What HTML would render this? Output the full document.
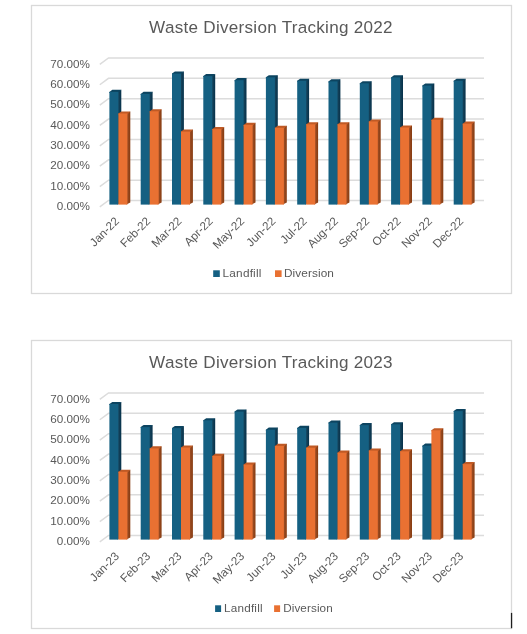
<!DOCTYPE html>
<html><head><meta charset="utf-8"><style>
html,body{margin:0;padding:0;background:#fff;width:527px;height:634px;overflow:hidden}
svg{display:block;font-family:"Liberation Sans",sans-serif;will-change:transform}
</style></head><body>
<svg width="527" height="634" viewBox="0 0 527 634">
<defs><linearGradient id="gb" x1="0" y1="0" x2="1" y2="0"><stop offset="0.25" stop-color="#17445c"/><stop offset="1" stop-color="#06314a"/></linearGradient><linearGradient id="go" x1="0" y1="0" x2="1" y2="0"><stop offset="0.25" stop-color="#9d4e25"/><stop offset="1" stop-color="#863b10"/></linearGradient></defs>
<rect width="527" height="634" fill="#fff"/>
<g transform="translate(0,0)">
<rect x="31.5" y="5.5" width="480" height="288" fill="#fff" stroke="#d9d9d9" stroke-width="1.3"/>
<text x="271" y="33" text-anchor="middle" font-size="17.1" letter-spacing="0.27" fill="#595959">Waste Diversion Tracking 2022</text>
<polyline points="99.8,206.9 108.5,200.5 484,200.5" fill="none" stroke="#dcdcdc" stroke-width="1.5"/>
<polyline points="99.8,186.54 108.5,180.14 484,180.14" fill="none" stroke="#dcdcdc" stroke-width="1.5"/>
<polyline points="99.8,166.18 108.5,159.78 484,159.78" fill="none" stroke="#dcdcdc" stroke-width="1.5"/>
<polyline points="99.8,145.82 108.5,139.42 484,139.42" fill="none" stroke="#dcdcdc" stroke-width="1.5"/>
<polyline points="99.8,125.46 108.5,119.06 484,119.06" fill="none" stroke="#dcdcdc" stroke-width="1.5"/>
<polyline points="99.8,105.1 108.5,98.7 484,98.7" fill="none" stroke="#dcdcdc" stroke-width="1.5"/>
<polyline points="99.8,84.74 108.5,78.34 484,78.34" fill="none" stroke="#dcdcdc" stroke-width="1.5"/>
<polyline points="99.8,64.38 108.5,57.98 484,57.98" fill="none" stroke="#dcdcdc" stroke-width="1.5"/>
<text x="89.9" y="210" text-anchor="end" font-size="11.7" fill="#595959">0.00%</text>
<text x="89.9" y="190" text-anchor="end" font-size="11.7" fill="#595959">10.00%</text>
<text x="89.9" y="169" text-anchor="end" font-size="11.7" fill="#595959">20.00%</text>
<text x="89.9" y="149" text-anchor="end" font-size="11.7" fill="#595959">30.00%</text>
<text x="89.9" y="129" text-anchor="end" font-size="11.7" fill="#595959">40.00%</text>
<text x="89.9" y="108" text-anchor="end" font-size="11.7" fill="#595959">50.00%</text>
<text x="89.9" y="88" text-anchor="end" font-size="11.7" fill="#595959">60.00%</text>
<text x="89.9" y="68" text-anchor="end" font-size="11.7" fill="#595959">70.00%</text>
<polygon points="117.4,91.6 121.3,89.8 121.3,202.5 117.4,204.6" fill="url(#gb)"/><polygon points="109.4,92.9 109.4,91.9 112.3,89.8 121.3,89.8 118.4,92.9" fill="#0c4460"/><rect x="109.4" y="91.9" width="9" height="112.7" fill="#156082"/>
<polygon points="126.4,113.2 130.3,111.4 130.3,202.5 126.4,204.6" fill="url(#go)"/><polygon points="118.4,114.5 118.4,113.5 121.3,111.4 130.3,111.4 127.4,114.5" fill="#c05a25"/><rect x="118.4" y="113.5" width="9" height="91.1" fill="#e97132"/>
<polygon points="148.7,93.6 152.6,91.8 152.6,202.5 148.7,204.6" fill="url(#gb)"/><polygon points="140.7,94.9 140.7,93.9 143.6,91.8 152.6,91.8 149.7,94.9" fill="#0c4460"/><rect x="140.7" y="93.9" width="9" height="110.7" fill="#156082"/>
<polygon points="157.7,111 161.6,109.2 161.6,202.5 157.7,204.6" fill="url(#go)"/><polygon points="149.7,112.3 149.7,111.3 152.6,109.2 161.6,109.2 158.7,112.3" fill="#c05a25"/><rect x="149.7" y="111.3" width="9" height="93.3" fill="#e97132"/>
<polygon points="180,73.3 183.9,71.5 183.9,202.5 180,204.6" fill="url(#gb)"/><polygon points="172,74.6 172,73.6 174.9,71.5 183.9,71.5 181,74.6" fill="#0c4460"/><rect x="172" y="73.6" width="9" height="131" fill="#156082"/>
<polygon points="189,131.3 192.9,129.5 192.9,202.5 189,204.6" fill="url(#go)"/><polygon points="181,132.6 181,131.6 183.9,129.5 192.9,129.5 190,132.6" fill="#c05a25"/><rect x="181" y="131.6" width="9" height="73" fill="#e97132"/>
<polygon points="211.3,75.8 215.2,74 215.2,202.5 211.3,204.6" fill="url(#gb)"/><polygon points="203.3,77.1 203.3,76.1 206.2,74 215.2,74 212.3,77.1" fill="#0c4460"/><rect x="203.3" y="76.1" width="9" height="128.5" fill="#156082"/>
<polygon points="220.3,128.8 224.2,127 224.2,202.5 220.3,204.6" fill="url(#go)"/><polygon points="212.3,130.1 212.3,129.1 215.2,127 224.2,127 221.3,130.1" fill="#c05a25"/><rect x="212.3" y="129.1" width="9" height="75.5" fill="#e97132"/>
<polygon points="242.6,79.9 246.5,78.1 246.5,202.5 242.6,204.6" fill="url(#gb)"/><polygon points="234.6,81.2 234.6,80.2 237.5,78.1 246.5,78.1 243.6,81.2" fill="#0c4460"/><rect x="234.6" y="80.2" width="9" height="124.4" fill="#156082"/>
<polygon points="251.6,124.6 255.5,122.8 255.5,202.5 251.6,204.6" fill="url(#go)"/><polygon points="243.6,125.9 243.6,124.9 246.5,122.8 255.5,122.8 252.6,125.9" fill="#c05a25"/><rect x="243.6" y="124.9" width="9" height="79.7" fill="#e97132"/>
<polygon points="273.9,77 277.8,75.2 277.8,202.5 273.9,204.6" fill="url(#gb)"/><polygon points="265.9,78.3 265.9,77.3 268.8,75.2 277.8,75.2 274.9,78.3" fill="#0c4460"/><rect x="265.9" y="77.3" width="9" height="127.3" fill="#156082"/>
<polygon points="282.9,127.5 286.8,125.7 286.8,202.5 282.9,204.6" fill="url(#go)"/><polygon points="274.9,128.8 274.9,127.8 277.8,125.7 286.8,125.7 283.9,128.8" fill="#c05a25"/><rect x="274.9" y="127.8" width="9" height="76.8" fill="#e97132"/>
<polygon points="305.2,80.5 309.1,78.7 309.1,202.5 305.2,204.6" fill="url(#gb)"/><polygon points="297.2,81.8 297.2,80.8 300.1,78.7 309.1,78.7 306.2,81.8" fill="#0c4460"/><rect x="297.2" y="80.8" width="9" height="123.8" fill="#156082"/>
<polygon points="314.2,124 318.1,122.2 318.1,202.5 314.2,204.6" fill="url(#go)"/><polygon points="306.2,125.3 306.2,124.3 309.1,122.2 318.1,122.2 315.2,125.3" fill="#c05a25"/><rect x="306.2" y="124.3" width="9" height="80.3" fill="#e97132"/>
<polygon points="336.5,81.1 340.4,79.3 340.4,202.5 336.5,204.6" fill="url(#gb)"/><polygon points="328.5,82.4 328.5,81.4 331.4,79.3 340.4,79.3 337.5,82.4" fill="#0c4460"/><rect x="328.5" y="81.4" width="9" height="123.2" fill="#156082"/>
<polygon points="345.5,124 349.4,122.2 349.4,202.5 345.5,204.6" fill="url(#go)"/><polygon points="337.5,125.3 337.5,124.3 340.4,122.2 349.4,122.2 346.5,125.3" fill="#c05a25"/><rect x="337.5" y="124.3" width="9" height="80.3" fill="#e97132"/>
<polygon points="367.8,83 371.7,81.2 371.7,202.5 367.8,204.6" fill="url(#gb)"/><polygon points="359.8,84.3 359.8,83.3 362.7,81.2 371.7,81.2 368.8,84.3" fill="#0c4460"/><rect x="359.8" y="83.3" width="9" height="121.3" fill="#156082"/>
<polygon points="376.8,121.2 380.7,119.4 380.7,202.5 376.8,204.6" fill="url(#go)"/><polygon points="368.8,122.5 368.8,121.5 371.7,119.4 380.7,119.4 377.8,122.5" fill="#c05a25"/><rect x="368.8" y="121.5" width="9" height="83.1" fill="#e97132"/>
<polygon points="399.1,77.1 403,75.3 403,202.5 399.1,204.6" fill="url(#gb)"/><polygon points="391.1,78.4 391.1,77.4 394,75.3 403,75.3 400.1,78.4" fill="#0c4460"/><rect x="391.1" y="77.4" width="9" height="127.2" fill="#156082"/>
<polygon points="408.1,127.2 412,125.4 412,202.5 408.1,204.6" fill="url(#go)"/><polygon points="400.1,128.5 400.1,127.5 403,125.4 412,125.4 409.1,128.5" fill="#c05a25"/><rect x="400.1" y="127.5" width="9" height="77.1" fill="#e97132"/>
<polygon points="430.4,85.3 434.3,83.5 434.3,202.5 430.4,204.6" fill="url(#gb)"/><polygon points="422.4,86.6 422.4,85.6 425.3,83.5 434.3,83.5 431.4,86.6" fill="#0c4460"/><rect x="422.4" y="85.6" width="9" height="119" fill="#156082"/>
<polygon points="439.4,119.6 443.3,117.8 443.3,202.5 439.4,204.6" fill="url(#go)"/><polygon points="431.4,120.9 431.4,119.9 434.3,117.8 443.3,117.8 440.4,120.9" fill="#c05a25"/><rect x="431.4" y="119.9" width="9" height="84.7" fill="#e97132"/>
<polygon points="461.7,80.5 465.6,78.7 465.6,202.5 461.7,204.6" fill="url(#gb)"/><polygon points="453.7,81.8 453.7,80.8 456.6,78.7 465.6,78.7 462.7,81.8" fill="#0c4460"/><rect x="453.7" y="80.8" width="9" height="123.8" fill="#156082"/>
<polygon points="470.7,123.4 474.6,121.6 474.6,202.5 470.7,204.6" fill="url(#go)"/><polygon points="462.7,124.7 462.7,123.7 465.6,121.6 474.6,121.6 471.7,124.7" fill="#c05a25"/><rect x="462.7" y="123.7" width="9" height="80.9" fill="#e97132"/>
<text transform="translate(116.9,219) rotate(-45)" text-anchor="end" font-size="11.7" fill="#595959" dy="0.35em">Jan-22</text>
<text transform="translate(148.2,219) rotate(-45)" text-anchor="end" font-size="11.7" fill="#595959" dy="0.35em">Feb-22</text>
<text transform="translate(179.5,219) rotate(-45)" text-anchor="end" font-size="11.7" fill="#595959" dy="0.35em">Mar-22</text>
<text transform="translate(210.8,219) rotate(-45)" text-anchor="end" font-size="11.7" fill="#595959" dy="0.35em">Apr-22</text>
<text transform="translate(242.1,219) rotate(-45)" text-anchor="end" font-size="11.7" fill="#595959" dy="0.35em">May-22</text>
<text transform="translate(273.4,219) rotate(-45)" text-anchor="end" font-size="11.7" fill="#595959" dy="0.35em">Jun-22</text>
<text transform="translate(304.7,219) rotate(-45)" text-anchor="end" font-size="11.7" fill="#595959" dy="0.35em">Jul-22</text>
<text transform="translate(336,219) rotate(-45)" text-anchor="end" font-size="11.7" fill="#595959" dy="0.35em">Aug-22</text>
<text transform="translate(367.3,219) rotate(-45)" text-anchor="end" font-size="11.7" fill="#595959" dy="0.35em">Sep-22</text>
<text transform="translate(398.6,219) rotate(-45)" text-anchor="end" font-size="11.7" fill="#595959" dy="0.35em">Oct-22</text>
<text transform="translate(429.9,219) rotate(-45)" text-anchor="end" font-size="11.7" fill="#595959" dy="0.35em">Nov-22</text>
<text transform="translate(461.2,219) rotate(-45)" text-anchor="end" font-size="11.7" fill="#595959" dy="0.35em">Dec-22</text>
<rect x="213.2" y="270.3" width="6.6" height="6.7" fill="#156082"/>
<text x="222.6" y="276.8" font-size="11.8" letter-spacing="0.2" fill="#595959">Landfill</text>
<rect x="275" y="270.3" width="6.6" height="6.7" fill="#e97132"/>
<text x="283.9" y="276.8" font-size="11.8" letter-spacing="0.1" fill="#595959">Diversion</text>
</g>
<g transform="translate(0,335)">
<rect x="31.5" y="5.5" width="480" height="288" fill="#fff" stroke="#d9d9d9" stroke-width="1.3"/>
<text x="271" y="33" text-anchor="middle" font-size="17.1" letter-spacing="0.27" fill="#595959">Waste Diversion Tracking 2023</text>
<polyline points="99.8,206.9 108.5,200.5 484,200.5" fill="none" stroke="#dcdcdc" stroke-width="1.5"/>
<polyline points="99.8,186.54 108.5,180.14 484,180.14" fill="none" stroke="#dcdcdc" stroke-width="1.5"/>
<polyline points="99.8,166.18 108.5,159.78 484,159.78" fill="none" stroke="#dcdcdc" stroke-width="1.5"/>
<polyline points="99.8,145.82 108.5,139.42 484,139.42" fill="none" stroke="#dcdcdc" stroke-width="1.5"/>
<polyline points="99.8,125.46 108.5,119.06 484,119.06" fill="none" stroke="#dcdcdc" stroke-width="1.5"/>
<polyline points="99.8,105.1 108.5,98.7 484,98.7" fill="none" stroke="#dcdcdc" stroke-width="1.5"/>
<polyline points="99.8,84.74 108.5,78.34 484,78.34" fill="none" stroke="#dcdcdc" stroke-width="1.5"/>
<polyline points="99.8,64.38 108.5,57.98 484,57.98" fill="none" stroke="#dcdcdc" stroke-width="1.5"/>
<text x="89.9" y="210" text-anchor="end" font-size="11.7" fill="#595959">0.00%</text>
<text x="89.9" y="190" text-anchor="end" font-size="11.7" fill="#595959">10.00%</text>
<text x="89.9" y="169" text-anchor="end" font-size="11.7" fill="#595959">20.00%</text>
<text x="89.9" y="149" text-anchor="end" font-size="11.7" fill="#595959">30.00%</text>
<text x="89.9" y="129" text-anchor="end" font-size="11.7" fill="#595959">40.00%</text>
<text x="89.9" y="108" text-anchor="end" font-size="11.7" fill="#595959">50.00%</text>
<text x="89.9" y="88" text-anchor="end" font-size="11.7" fill="#595959">60.00%</text>
<text x="89.9" y="68" text-anchor="end" font-size="11.7" fill="#595959">70.00%</text>
<polygon points="117.4,68.7 121.3,66.9 121.3,202.5 117.4,204.6" fill="url(#gb)"/><polygon points="109.4,70 109.4,69 112.3,66.9 121.3,66.9 118.4,70" fill="#0c4460"/><rect x="109.4" y="69" width="9" height="135.6" fill="#156082"/>
<polygon points="126.4,136.5 130.3,134.7 130.3,202.5 126.4,204.6" fill="url(#go)"/><polygon points="118.4,137.8 118.4,136.8 121.3,134.7 130.3,134.7 127.4,137.8" fill="#c05a25"/><rect x="118.4" y="136.8" width="9" height="67.8" fill="#e97132"/>
<polygon points="148.7,91.8 152.6,90 152.6,202.5 148.7,204.6" fill="url(#gb)"/><polygon points="140.7,93.1 140.7,92.1 143.6,90 152.6,90 149.7,93.1" fill="#0c4460"/><rect x="140.7" y="92.1" width="9" height="112.5" fill="#156082"/>
<polygon points="157.7,113.1 161.6,111.3 161.6,202.5 157.7,204.6" fill="url(#go)"/><polygon points="149.7,114.4 149.7,113.4 152.6,111.3 161.6,111.3 158.7,114.4" fill="#c05a25"/><rect x="149.7" y="113.4" width="9" height="91.2" fill="#e97132"/>
<polygon points="180,92.8 183.9,91 183.9,202.5 180,204.6" fill="url(#gb)"/><polygon points="172,94.1 172,93.1 174.9,91 183.9,91 181,94.1" fill="#0c4460"/><rect x="172" y="93.1" width="9" height="111.5" fill="#156082"/>
<polygon points="189,112.2 192.9,110.4 192.9,202.5 189,204.6" fill="url(#go)"/><polygon points="181,113.5 181,112.5 183.9,110.4 192.9,110.4 190,113.5" fill="#c05a25"/><rect x="181" y="112.5" width="9" height="92.1" fill="#e97132"/>
<polygon points="211.3,85 215.2,83.2 215.2,202.5 211.3,204.6" fill="url(#gb)"/><polygon points="203.3,86.3 203.3,85.3 206.2,83.2 215.2,83.2 212.3,86.3" fill="#0c4460"/><rect x="203.3" y="85.3" width="9" height="119.3" fill="#156082"/>
<polygon points="220.3,120.6 224.2,118.8 224.2,202.5 220.3,204.6" fill="url(#go)"/><polygon points="212.3,121.9 212.3,120.9 215.2,118.8 224.2,118.8 221.3,121.9" fill="#c05a25"/><rect x="212.3" y="120.9" width="9" height="83.7" fill="#e97132"/>
<polygon points="242.6,76.3 246.5,74.5 246.5,202.5 242.6,204.6" fill="url(#gb)"/><polygon points="234.6,77.6 234.6,76.6 237.5,74.5 246.5,74.5 243.6,77.6" fill="#0c4460"/><rect x="234.6" y="76.6" width="9" height="128" fill="#156082"/>
<polygon points="251.6,129.3 255.5,127.5 255.5,202.5 251.6,204.6" fill="url(#go)"/><polygon points="243.6,130.6 243.6,129.6 246.5,127.5 255.5,127.5 252.6,130.6" fill="#c05a25"/><rect x="243.6" y="129.6" width="9" height="75" fill="#e97132"/>
<polygon points="273.9,94.4 277.8,92.6 277.8,202.5 273.9,204.6" fill="url(#gb)"/><polygon points="265.9,95.7 265.9,94.7 268.8,92.6 277.8,92.6 274.9,95.7" fill="#0c4460"/><rect x="265.9" y="94.7" width="9" height="109.9" fill="#156082"/>
<polygon points="282.9,110.6 286.8,108.8 286.8,202.5 282.9,204.6" fill="url(#go)"/><polygon points="274.9,111.9 274.9,110.9 277.8,108.8 286.8,108.8 283.9,111.9" fill="#c05a25"/><rect x="274.9" y="110.9" width="9" height="93.7" fill="#e97132"/>
<polygon points="305.2,92.6 309.1,90.8 309.1,202.5 305.2,204.6" fill="url(#gb)"/><polygon points="297.2,93.9 297.2,92.9 300.1,90.8 309.1,90.8 306.2,93.9" fill="#0c4460"/><rect x="297.2" y="92.9" width="9" height="111.7" fill="#156082"/>
<polygon points="314.2,112.4 318.1,110.6 318.1,202.5 314.2,204.6" fill="url(#go)"/><polygon points="306.2,113.7 306.2,112.7 309.1,110.6 318.1,110.6 315.2,113.7" fill="#c05a25"/><rect x="306.2" y="112.7" width="9" height="91.9" fill="#e97132"/>
<polygon points="336.5,87.3 340.4,85.5 340.4,202.5 336.5,204.6" fill="url(#gb)"/><polygon points="328.5,88.6 328.5,87.6 331.4,85.5 340.4,85.5 337.5,88.6" fill="#0c4460"/><rect x="328.5" y="87.6" width="9" height="117" fill="#156082"/>
<polygon points="345.5,117.4 349.4,115.6 349.4,202.5 345.5,204.6" fill="url(#go)"/><polygon points="337.5,118.7 337.5,117.7 340.4,115.6 349.4,115.6 346.5,118.7" fill="#c05a25"/><rect x="337.5" y="117.7" width="9" height="86.9" fill="#e97132"/>
<polygon points="367.8,89.8 371.7,88 371.7,202.5 367.8,204.6" fill="url(#gb)"/><polygon points="359.8,91.1 359.8,90.1 362.7,88 371.7,88 368.8,91.1" fill="#0c4460"/><rect x="359.8" y="90.1" width="9" height="114.5" fill="#156082"/>
<polygon points="376.8,115.3 380.7,113.5 380.7,202.5 376.8,204.6" fill="url(#go)"/><polygon points="368.8,116.6 368.8,115.6 371.7,113.5 380.7,113.5 377.8,116.6" fill="#c05a25"/><rect x="368.8" y="115.6" width="9" height="89" fill="#e97132"/>
<polygon points="399.1,89 403,87.2 403,202.5 399.1,204.6" fill="url(#gb)"/><polygon points="391.1,90.3 391.1,89.3 394,87.2 403,87.2 400.1,90.3" fill="#0c4460"/><rect x="391.1" y="89.3" width="9" height="115.3" fill="#156082"/>
<polygon points="408.1,116 412,114.2 412,202.5 408.1,204.6" fill="url(#go)"/><polygon points="400.1,117.3 400.1,116.3 403,114.2 412,114.2 409.1,117.3" fill="#c05a25"/><rect x="400.1" y="116.3" width="9" height="88.3" fill="#e97132"/>
<polygon points="430.4,110.4 434.3,108.6 434.3,202.5 430.4,204.6" fill="url(#gb)"/><polygon points="422.4,111.7 422.4,110.7 425.3,108.6 434.3,108.6 431.4,111.7" fill="#0c4460"/><rect x="422.4" y="110.7" width="9" height="93.9" fill="#156082"/>
<polygon points="439.4,95 443.3,93.2 443.3,202.5 439.4,204.6" fill="url(#go)"/><polygon points="431.4,96.3 431.4,95.3 434.3,93.2 443.3,93.2 440.4,96.3" fill="#c05a25"/><rect x="431.4" y="95.3" width="9" height="109.3" fill="#e97132"/>
<polygon points="461.7,75.8 465.6,74 465.6,202.5 461.7,204.6" fill="url(#gb)"/><polygon points="453.7,77.1 453.7,76.1 456.6,74 465.6,74 462.7,77.1" fill="#0c4460"/><rect x="453.7" y="76.1" width="9" height="128.5" fill="#156082"/>
<polygon points="470.7,128.8 474.6,127 474.6,202.5 470.7,204.6" fill="url(#go)"/><polygon points="462.7,130.1 462.7,129.1 465.6,127 474.6,127 471.7,130.1" fill="#c05a25"/><rect x="462.7" y="129.1" width="9" height="75.5" fill="#e97132"/>
<text transform="translate(116.9,219) rotate(-45)" text-anchor="end" font-size="11.7" fill="#595959" dy="0.35em">Jan-23</text>
<text transform="translate(148.2,219) rotate(-45)" text-anchor="end" font-size="11.7" fill="#595959" dy="0.35em">Feb-23</text>
<text transform="translate(179.5,219) rotate(-45)" text-anchor="end" font-size="11.7" fill="#595959" dy="0.35em">Mar-23</text>
<text transform="translate(210.8,219) rotate(-45)" text-anchor="end" font-size="11.7" fill="#595959" dy="0.35em">Apr-23</text>
<text transform="translate(242.1,219) rotate(-45)" text-anchor="end" font-size="11.7" fill="#595959" dy="0.35em">May-23</text>
<text transform="translate(273.4,219) rotate(-45)" text-anchor="end" font-size="11.7" fill="#595959" dy="0.35em">Jun-23</text>
<text transform="translate(304.7,219) rotate(-45)" text-anchor="end" font-size="11.7" fill="#595959" dy="0.35em">Jul-23</text>
<text transform="translate(336,219) rotate(-45)" text-anchor="end" font-size="11.7" fill="#595959" dy="0.35em">Aug-23</text>
<text transform="translate(367.3,219) rotate(-45)" text-anchor="end" font-size="11.7" fill="#595959" dy="0.35em">Sep-23</text>
<text transform="translate(398.6,219) rotate(-45)" text-anchor="end" font-size="11.7" fill="#595959" dy="0.35em">Oct-23</text>
<text transform="translate(429.9,219) rotate(-45)" text-anchor="end" font-size="11.7" fill="#595959" dy="0.35em">Nov-23</text>
<text transform="translate(461.2,219) rotate(-45)" text-anchor="end" font-size="11.7" fill="#595959" dy="0.35em">Dec-23</text>
<rect x="215.1" y="270.3" width="6" height="6.7" fill="#156082"/>
<text x="224.1" y="276.8" font-size="11.7" letter-spacing="0.2" fill="#595959">Landfill</text>
<rect x="274.1" y="270.3" width="6" height="6.7" fill="#e97132"/>
<text x="283.2" y="276.8" font-size="11.7" letter-spacing="0.1" fill="#595959">Diversion</text>
</g>
<rect x="510.9" y="612.9" width="1.3" height="15.3" fill="#1e1e1e"/>
</svg>
</body></html>
